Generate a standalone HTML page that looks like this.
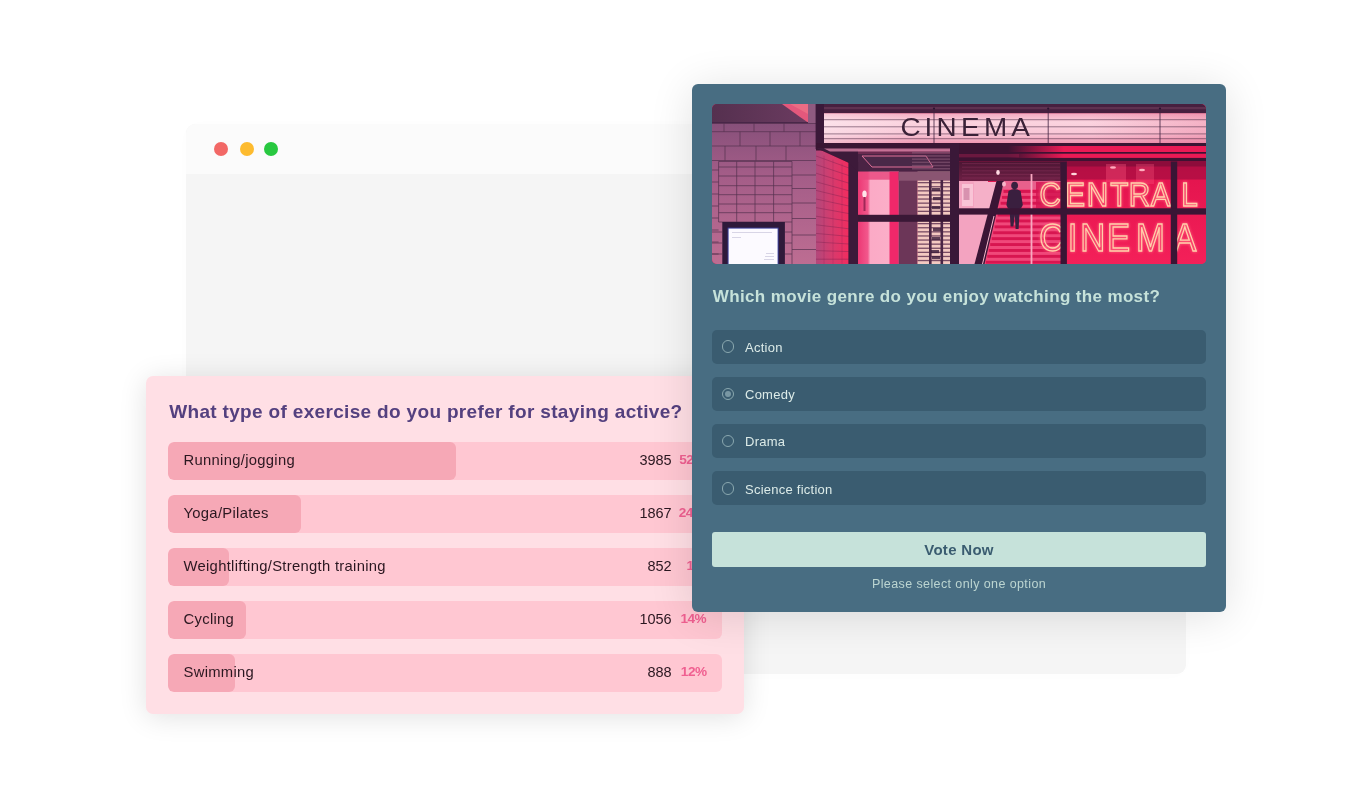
<!DOCTYPE html>
<html lang="en">
<head>
<meta charset="utf-8">
<title>Poll preview</title>
<style>
*{box-sizing:border-box;margin:0;padding:0}
html,body{width:1370px;height:800px;overflow:hidden;background:#fff}
body{position:relative;font-family:"Liberation Sans",sans-serif}
.abs{position:absolute}
.t{position:absolute;white-space:nowrap;line-height:1}
.win,.pink,.blue{will-change:transform}

/* browser window */
.win{position:absolute;left:186px;top:124px;width:1000px;height:550px;border-radius:9px;background:#f5f5f5;box-shadow:0 1px 18px rgba(0,0,0,.012)}
.win .bar{position:absolute;left:0;top:0;width:100%;height:50px;background:#fbfbfb;border-radius:9px 9px 0 0}
.dot{position:absolute;top:18px;width:14px;height:14px;border-radius:50%}

/* pink results card */
.pink{position:absolute;left:146px;top:376px;width:598px;height:338px;border-radius:7px;background:#ffdfe5;box-shadow:0 3px 28px rgba(0,0,0,.12)}
.row{position:absolute;left:22px;width:554px;height:38px;border-radius:6px;background:#ffc7d2;overflow:hidden}
.fill{position:absolute;left:0;top:0;height:38px;border-radius:6px;background:#f6a8b6}
.lbl{left:15.5px;top:11.1px;font-size:14.8px;letter-spacing:.3px;color:#2a1720}
.cnt{top:10.6px;font-size:14.5px;color:#2a1720;text-align:right;width:60px;left:443.7px}
.pct{top:10.8px;font-size:13.6px;letter-spacing:-.45px;font-weight:bold;color:#f06091}

/* blue vote card */
.blue{position:absolute;left:692px;top:84px;width:534px;height:528px;border-radius:6px;background:#486d82;box-shadow:0 4px 44px rgba(0,0,0,.12)}
.opt{position:absolute;left:20px;width:494px;height:34px;border-radius:5px;background:#3a5c70}
.radio{position:absolute;left:9.9px;top:10.9px;width:12.4px;height:12.4px;border-radius:50%;border:1px solid #8aa8af}
.radio.on::after{content:"";position:absolute;left:2.3px;top:2.3px;width:5.8px;height:5.8px;border-radius:50%;background:#7997a3}
.otxt{left:33px;top:11.4px;font-size:13px;letter-spacing:.25px;color:#dcebe8}
.btn{position:absolute;left:20px;top:448.4px;width:494px;height:34.5px;border-radius:3px;background:#c6e2da}
</style>
</head>
<body>

<!-- browser window -->
<div class="win">
  <div class="bar"></div>
  <div class="dot" style="left:28px;background:#f26866"></div>
  <div class="dot" style="left:54px;background:#fdbb2f"></div>
  <div class="dot" style="left:78px;background:#28c840"></div>
</div>

<!-- pink results card -->
<div class="pink">
  <div class="t" id="ptitle" style="left:23.2px;top:26.4px;font-size:19px;letter-spacing:.33px;font-weight:bold;color:#54407f">What type of exercise do you prefer for staying active?</div>

  <div class="row" style="top:66px"><div class="fill" style="width:288px"></div>
    <div class="t lbl">Running/jogging</div><div class="t cnt">3985</div><div class="t pct" style="left:511.2px">52%</div></div>
  <div class="row" style="top:119px"><div class="fill" style="width:133px"></div>
    <div class="t lbl">Yoga/Pilates</div><div class="t cnt">1867</div><div class="t pct" style="left:510.7px">24%</div></div>
  <div class="row" style="top:172px"><div class="fill" style="width:61px"></div>
    <div class="t lbl">Weightlifting/Strength training</div><div class="t cnt">852</div><div class="t pct" style="left:518.6px">11%</div></div>
  <div class="row" style="top:225px"><div class="fill" style="width:78px"></div>
    <div class="t lbl">Cycling</div><div class="t cnt">1056</div><div class="t pct" style="left:512.4px">14%</div></div>
  <div class="row" style="top:278px"><div class="fill" style="width:67px"></div>
    <div class="t lbl">Swimming</div><div class="t cnt">888</div><div class="t pct" style="left:512.8px">12%</div></div>
</div>

<!-- blue vote card -->
<div class="blue">
  <div class="abs" id="photo" style="left:20px;top:20px;width:494px;height:160px;border-radius:5px;overflow:hidden;background:#d8456f">
<svg width="494" height="160" viewBox="0 0 494 160" style="display:block">
<defs>
<linearGradient id="gWall" x1="0" y1="0" x2="0" y2="1"><stop offset="0" stop-color="#7c466b"/><stop offset=".12" stop-color="#87507a"/><stop offset=".45" stop-color="#a45d88"/><stop offset="1" stop-color="#bd6d92"/></linearGradient>
<linearGradient id="gRedWall" x1="0" y1="0" x2="1" y2="0"><stop offset="0" stop-color="#b2487b"/><stop offset=".45" stop-color="#d43c6e"/><stop offset="1" stop-color="#f22c5f"/></linearGradient>
<linearGradient id="gMarq" x1="0" y1="0" x2="0" y2="1"><stop offset="0" stop-color="#f3a9c0"/><stop offset=".3" stop-color="#fbd3df"/><stop offset=".7" stop-color="#f9c6d6"/><stop offset="1" stop-color="#ee98b3"/></linearGradient>
<linearGradient id="gMarqL" x1="0" y1="0" x2="1" y2="0"><stop offset="0" stop-color="#fff" stop-opacity=".35"/><stop offset=".25" stop-color="#fff" stop-opacity="0"/><stop offset=".7" stop-color="#e0507a" stop-opacity="0"/><stop offset="1" stop-color="#e0507a" stop-opacity=".25"/></linearGradient>
<linearGradient id="gDoor" x1="0" y1="0" x2="1" y2="0"><stop offset="0" stop-color="#ec3874"/><stop offset=".24" stop-color="#f2588c"/><stop offset=".3" stop-color="#fbaac6"/><stop offset="1" stop-color="#fbb0c9"/></linearGradient>
<linearGradient id="gRed" x1="0" y1="0" x2="0" y2="1"><stop offset="0" stop-color="#b50f45"/><stop offset=".2" stop-color="#e3144e"/><stop offset="1" stop-color="#f42059"/></linearGradient>
<linearGradient id="gCeil" x1="0" y1="0" x2="0" y2="1"><stop offset="0" stop-color="#4b1633"/><stop offset="1" stop-color="#6d1f44"/></linearGradient>
<linearGradient id="gOver" x1="0" y1="0" x2="1" y2="0"><stop offset="0" stop-color="#55304f"/><stop offset="1" stop-color="#6b3b60"/></linearGradient>
<linearGradient id="gGlow" gradientUnits="userSpaceOnUse" x1="296" y1="0" x2="352" y2="0"><stop offset="0" stop-color="#e8154f" stop-opacity="0"/><stop offset="1" stop-color="#ea1a55" stop-opacity="1"/></linearGradient>
<filter id="neon" x="-10%" y="-40%" width="120%" height="180%" color-interpolation-filters="sRGB"><feGaussianBlur in="SourceAlpha" stdDeviation="1.7" result="b"/><feColorMatrix in="b" type="matrix" values="0 0 0 0 1  0 0 0 0 .36  0 0 0 0 .48  0 0 0 1.5 0" result="g"/><feMerge><feMergeNode in="g"/><feMergeNode in="SourceGraphic"/></feMerge></filter>
</defs>
<rect width="494" height="160" fill="#ea1a52"/>
<rect x="0" y="0" width="104" height="160" fill="url(#gWall)"/>
<path d="M0.0 19.5L104.0 19.5" stroke="#55304f" stroke-width="0.7" opacity="1"/>
<path d="M0.0 27.7L104.0 27.7" stroke="#55304f" stroke-width="0.7" opacity="1"/>
<path d="M0.0 42.0L104.0 42.0" stroke="#55304f" stroke-width="0.7" opacity="1"/>
<path d="M0.0 56.5L104.0 56.5" stroke="#55304f" stroke-width="0.7" opacity="1"/>
<path d="M12.0 19.5L12.0 27.7" stroke="#55304f" stroke-width="0.7" opacity="1"/>
<path d="M42.0 19.5L42.0 27.7" stroke="#55304f" stroke-width="0.7" opacity="1"/>
<path d="M72.0 19.5L72.0 27.7" stroke="#55304f" stroke-width="0.7" opacity="1"/>
<path d="M28.0 27.7L28.0 42.0" stroke="#55304f" stroke-width="0.7" opacity="1"/>
<path d="M58.0 27.7L58.0 42.0" stroke="#55304f" stroke-width="0.7" opacity="1"/>
<path d="M88.0 27.7L88.0 42.0" stroke="#55304f" stroke-width="0.7" opacity="1"/>
<path d="M13.0 42.0L13.0 56.5" stroke="#55304f" stroke-width="0.7" opacity="1"/>
<path d="M44.0 42.0L44.0 56.5" stroke="#55304f" stroke-width="0.7" opacity="1"/>
<path d="M74.0 42.0L74.0 56.5" stroke="#55304f" stroke-width="0.7" opacity="1"/>
<path d="M6.6 57.5L80.0 57.5" stroke="#55304f" stroke-width="0.7" opacity="1"/>
<path d="M6.6 63.0L80.0 63.0" stroke="#55304f" stroke-width="0.7" opacity="1"/>
<path d="M6.6 72.0L80.0 72.0" stroke="#55304f" stroke-width="0.7" opacity="1"/>
<path d="M6.6 81.7L80.0 81.7" stroke="#55304f" stroke-width="0.7" opacity="1"/>
<path d="M6.6 90.7L80.0 90.7" stroke="#55304f" stroke-width="0.7" opacity="1"/>
<path d="M6.6 100.0L80.0 100.0" stroke="#55304f" stroke-width="0.7" opacity="1"/>
<path d="M6.6 108.7L80.0 108.7" stroke="#55304f" stroke-width="0.7" opacity="1"/>
<path d="M6.6 118.0L80.0 118.0" stroke="#55304f" stroke-width="0.7" opacity="1"/>
<path d="M6.6 57.5L6.6 118.0" stroke="#55304f" stroke-width="0.7" opacity="1"/>
<path d="M24.7 57.5L24.7 118.0" stroke="#55304f" stroke-width="0.7" opacity="1"/>
<path d="M43.0 57.5L43.0 118.0" stroke="#55304f" stroke-width="0.7" opacity="1"/>
<path d="M61.6 57.5L61.6 118.0" stroke="#55304f" stroke-width="0.7" opacity="1"/>
<path d="M80.0 57.5L80.0 118.0" stroke="#55304f" stroke-width="0.7" opacity="1"/>
<path d="M80.0 71.0L104.0 71.0" stroke="#55304f" stroke-width="0.7" opacity="1"/>
<path d="M80.0 84.5L104.0 84.5" stroke="#55304f" stroke-width="0.7" opacity="1"/>
<path d="M80.0 99.0L104.0 99.0" stroke="#55304f" stroke-width="0.7" opacity="1"/>
<path d="M80.0 114.5L104.0 114.5" stroke="#55304f" stroke-width="0.7" opacity="1"/>
<path d="M80.0 131.0L104.0 131.0" stroke="#55304f" stroke-width="0.7" opacity="1"/>
<path d="M80.0 145.5L104.0 145.5" stroke="#55304f" stroke-width="0.7" opacity="1"/>
<path d="M80.0 118.0L80.0 160.0" stroke="#55304f" stroke-width="0.7" opacity="1"/>
<path d="M0.0 66.0L6.6 66.0" stroke="#55304f" stroke-width="0.7" opacity="1"/>
<path d="M0.0 78.0L6.6 78.0" stroke="#55304f" stroke-width="0.7" opacity="1"/>
<path d="M0.0 90.0L6.6 90.0" stroke="#55304f" stroke-width="0.7" opacity="1"/>
<path d="M0.0 102.0L6.6 102.0" stroke="#55304f" stroke-width="0.7" opacity="1"/>
<path d="M0.0 114.0L6.6 114.0" stroke="#55304f" stroke-width="0.7" opacity="1"/>
<path d="M0.0 126.0L6.6 126.0" stroke="#55304f" stroke-width="0.7" opacity="1"/>
<path d="M0.0 138.0L6.6 138.0" stroke="#55304f" stroke-width="0.7" opacity="1"/>
<path d="M0.0 150.0L6.6 150.0" stroke="#55304f" stroke-width="0.7" opacity="1"/>
<path d="M73.0 128.0L80.0 128.0" stroke="#55304f" stroke-width="0.7" opacity="1"/>
<path d="M0.0 128.0L10.0 128.0" stroke="#55304f" stroke-width="0.7" opacity="1"/>
<path d="M73.0 139.0L80.0 139.0" stroke="#55304f" stroke-width="0.7" opacity="1"/>
<path d="M0.0 139.0L10.0 139.0" stroke="#55304f" stroke-width="0.7" opacity="1"/>
<path d="M73.0 150.0L80.0 150.0" stroke="#55304f" stroke-width="0.7" opacity="1"/>
<path d="M0.0 150.0L10.0 150.0" stroke="#55304f" stroke-width="0.7" opacity="1"/>
<rect x="0" y="0" width="96" height="18.5" fill="url(#gOver)"/>
<path d="M70 0H96V18.5L88 13Z" fill="#e4587c"/><path d="M78 0H96V10Z" fill="#f07a8a" opacity=".6"/>
<path d="M0.0 18.7L96.0 18.7" stroke="#3f2142" stroke-width="1" opacity="1"/>
<rect x="96" y="0" width="8" height="19" fill="#8f5a80"/>
<rect x="10.3" y="118" width="62.6" height="42" fill="#2f1a3a"/>
<rect x="15.6" y="123.6" width="51" height="37" fill="#3b3f9c"/>
<rect x="16.6" y="124.6" width="49" height="36" fill="#fcfaff"/>
<rect x="20" y="128" width="40" height=".7" fill="#c9c4dc"/>
<rect x="20" y="133" width="9" height=".7" fill="#c9c4dc"/>
<rect x="54" y="149" width="8" height=".7" fill="#c9c4dc"/>
<rect x="53" y="152" width="9" height=".7" fill="#c9c4dc"/>
<rect x="52" y="155" width="10" height=".7" fill="#c9c4dc"/>
<path d="M104 44L137 59V160H104Z" fill="url(#gRedWall)"/>
<path d="M104.0 52.0L137.0 64.0" stroke="#7d2350" stroke-width="0.6" opacity="0.7"/>
<path d="M104.0 60.6L137.0 71.6" stroke="#7d2350" stroke-width="0.6" opacity="0.7"/>
<path d="M104.0 69.2L137.0 79.2" stroke="#7d2350" stroke-width="0.6" opacity="0.7"/>
<path d="M104.0 77.8L137.0 86.8" stroke="#7d2350" stroke-width="0.6" opacity="0.7"/>
<path d="M104.0 86.4L137.0 94.4" stroke="#7d2350" stroke-width="0.6" opacity="0.7"/>
<path d="M104.0 95.0L137.0 102.0" stroke="#7d2350" stroke-width="0.6" opacity="0.7"/>
<path d="M104.0 103.6L137.0 109.6" stroke="#7d2350" stroke-width="0.6" opacity="0.7"/>
<path d="M104.0 112.2L137.0 117.2" stroke="#7d2350" stroke-width="0.6" opacity="0.7"/>
<path d="M104.0 120.8L137.0 124.8" stroke="#7d2350" stroke-width="0.6" opacity="0.7"/>
<path d="M104.0 129.4L137.0 132.4" stroke="#7d2350" stroke-width="0.6" opacity="0.7"/>
<path d="M104.0 138.0L137.0 140.0" stroke="#7d2350" stroke-width="0.6" opacity="0.7"/>
<path d="M104.0 146.6L137.0 147.6" stroke="#7d2350" stroke-width="0.6" opacity="0.7"/>
<path d="M104.0 155.2L137.0 155.2" stroke="#7d2350" stroke-width="0.6" opacity="0.7"/>
<path d="M104.0 163.8L137.0 162.8" stroke="#7d2350" stroke-width="0.6" opacity="0.7"/>
<path d="M112.0 51.6L112.0 160.0" stroke="#7d2350" stroke-width="0.5" opacity="0.45"/>
<path d="M121.0 55.6L121.0 160.0" stroke="#7d2350" stroke-width="0.5" opacity="0.45"/>
<path d="M130.0 59.7L130.0 160.0" stroke="#7d2350" stroke-width="0.5" opacity="0.45"/>
<rect x="104" y="0" width="390" height="9.5" fill="#47203f"/>
<rect x="104" y="3" width="390" height="2.2" fill="#6a3a58" opacity=".7"/>
<rect x="103.6" y="0" width="8.4" height="45" fill="#3b1939"/>
<rect x="112" y="9.3" width="382" height="29.7" fill="url(#gMarq)"/>
<rect x="112" y="9.3" width="382" height="29.7" fill="url(#gMarqL)"/>
<path d="M112.0 15.7L494.0 15.7" stroke="#4a2a44" stroke-width="0.7" opacity="0.8"/>
<path d="M112.0 22.8L494.0 22.8" stroke="#4a2a44" stroke-width="0.7" opacity="0.8"/>
<path d="M112.0 29.9L494.0 29.9" stroke="#4a2a44" stroke-width="0.7" opacity="0.8"/>
<path d="M112.0 34.7L494.0 34.7" stroke="#4a2a44" stroke-width="0.7" opacity="0.8"/>
<path d="M222.0 5.0L222.0 39.0" stroke="#3f2140" stroke-width="0.8" opacity="1"/>
<path d="M336.2 5.0L336.2 39.0" stroke="#3f2140" stroke-width="0.8" opacity="1"/>
<path d="M448.0 5.0L448.0 39.0" stroke="#3f2140" stroke-width="0.8" opacity="1"/>
<circle cx="222" cy="4.5" r="1.1" fill="#2c1530"/>
<circle cx="336.2" cy="4.5" r="1.1" fill="#2c1530"/>
<circle cx="448" cy="4.5" r="1.1" fill="#2c1530"/>
<text transform="scale(1.08,1)" x="174.5 196.8 207.8 230.6 251.8 277.2" y="32" font-family="'Liberation Sans',sans-serif" font-size="25.8" fill="#3b2238">CINEMA</text>
<rect x="104" y="39" width="390" height="7.5" fill="#3a1533"/>
<rect x="137" y="46" width="110" height="22" fill="#4a2344"/>
<path d="M137 46H247V50H137Z" fill="#6a2a4f"/>
<path d="M150 52H214L221 63H160Z" fill="#4a2848" stroke="#e07098" stroke-width="1"/>
<rect x="200" y="48.0" width="38" height="1.5" fill="#8a5a78" opacity=".6"/>
<rect x="200" y="51.2" width="38" height="1.5" fill="#8a5a78" opacity=".6"/>
<rect x="200" y="54.4" width="38" height="1.5" fill="#8a5a78" opacity=".6"/>
<rect x="200" y="57.6" width="38" height="1.5" fill="#8a5a78" opacity=".6"/>
<rect x="200" y="60.8" width="38" height="1.5" fill="#8a5a78" opacity=".6"/>
<rect x="200" y="64.0" width="38" height="1.5" fill="#8a5a78" opacity=".6"/>
<rect x="136.4" y="58" width="9.8" height="102" fill="#3d1a3a"/>
<path d="M104 44H146V68L137 59Z" fill="#3d1a3a"/>
<path d="M112 44.5H238V47.5H118Z" fill="#e58aad" opacity=".75"/>
<rect x="146" y="67.7" width="41" height="92.3" fill="url(#gDoor)"/>
<rect x="146" y="67.7" width="41" height="8" fill="#e8457c" opacity=".8"/>
<rect x="177.5" y="67.7" width="9.3" height="92.3" fill="#f0286a"/>
<ellipse cx="152.5" cy="90" rx="2.2" ry="3.5" fill="#ffe4ea"/><rect x="151.5" y="93" width="2" height="14" fill="#a02858"/>
<rect x="186.7" y="67.7" width="19" height="92.3" fill="#6c3658"/>
<rect x="205.5" y="67.7" width="32.5" height="92.3" fill="#f3c9c1"/>
<rect x="186.7" y="67.7" width="51.3" height="9" fill="#8a5572"/>
<rect x="205.5" y="78.0" width="32.5" height="1.3" fill="#5a2c4c" opacity=".8"/>
<rect x="205.5" y="82.1" width="32.5" height="1.3" fill="#5a2c4c" opacity=".8"/>
<rect x="205.5" y="86.2" width="32.5" height="1.3" fill="#5a2c4c" opacity=".8"/>
<rect x="205.5" y="90.3" width="32.5" height="1.3" fill="#5a2c4c" opacity=".8"/>
<rect x="205.5" y="94.4" width="32.5" height="1.3" fill="#5a2c4c" opacity=".8"/>
<rect x="205.5" y="98.5" width="32.5" height="1.3" fill="#5a2c4c" opacity=".8"/>
<rect x="205.5" y="102.6" width="32.5" height="1.3" fill="#5a2c4c" opacity=".8"/>
<rect x="205.5" y="106.7" width="32.5" height="1.3" fill="#5a2c4c" opacity=".8"/>
<rect x="205.5" y="110.8" width="32.5" height="1.3" fill="#5a2c4c" opacity=".8"/>
<rect x="205.5" y="114.9" width="32.5" height="1.3" fill="#5a2c4c" opacity=".8"/>
<rect x="205.5" y="119.0" width="32.5" height="1.3" fill="#5a2c4c" opacity=".8"/>
<rect x="205.5" y="123.1" width="32.5" height="1.3" fill="#5a2c4c" opacity=".8"/>
<rect x="205.5" y="127.2" width="32.5" height="1.3" fill="#5a2c4c" opacity=".8"/>
<rect x="205.5" y="131.3" width="32.5" height="1.3" fill="#5a2c4c" opacity=".8"/>
<rect x="205.5" y="135.4" width="32.5" height="1.3" fill="#5a2c4c" opacity=".8"/>
<rect x="205.5" y="139.5" width="32.5" height="1.3" fill="#5a2c4c" opacity=".8"/>
<rect x="205.5" y="143.6" width="32.5" height="1.3" fill="#5a2c4c" opacity=".8"/>
<rect x="205.5" y="147.7" width="32.5" height="1.3" fill="#5a2c4c" opacity=".8"/>
<rect x="205.5" y="151.8" width="32.5" height="1.3" fill="#5a2c4c" opacity=".8"/>
<rect x="205.5" y="155.9" width="32.5" height="1.3" fill="#5a2c4c" opacity=".8"/>
<rect x="205.5" y="160.0" width="32.5" height="1.3" fill="#5a2c4c" opacity=".8"/>
<rect x="217" y="76" width="2.6" height="84" fill="#4a2545"/>
<rect x="228.5" y="76" width="2.6" height="84" fill="#4a2545"/>
<rect x="220" y="84" width="8" height="3.2" fill="#3a1c3a" opacity=".8"/>
<rect x="221" y="93" width="8" height="3.2" fill="#3a1c3a" opacity=".8"/>
<rect x="220" y="102" width="8" height="3.2" fill="#3a1c3a" opacity=".8"/>
<rect x="221" y="124" width="8" height="3.2" fill="#3a1c3a" opacity=".8"/>
<rect x="220" y="133" width="8" height="3.2" fill="#3a1c3a" opacity=".8"/>
<rect x="219" y="146" width="8" height="3.2" fill="#3a1c3a" opacity=".8"/>
<rect x="220" y="152" width="8" height="3.2" fill="#3a1c3a" opacity=".8"/>
<rect x="146" y="110.8" width="92" height="7" fill="#3a1836"/>
<rect x="238" y="39" width="9.2" height="121" fill="#3a1838"/>
<rect x="247" y="46" width="247" height="114" fill="url(#gRed)"/>
<rect x="247" y="46" width="247" height="11.5" fill="#3e1232"/>
<rect x="296" y="42" width="198" height="6" fill="url(#gGlow)"/>
<rect x="296" y="49.7" width="198" height="4.2" fill="url(#gGlow)"/>
<rect x="247" y="50" width="60" height="3.4" fill="#8a1c48" opacity=".6"/>
<rect x="247" y="57.5" width="102" height="19.5" fill="url(#gCeil)"/>
<rect x="250" y="59.0" width="98" height="1.2" fill="#8a3058" opacity=".45"/>
<rect x="250" y="62.6" width="98" height="1.2" fill="#8a3058" opacity=".45"/>
<rect x="250" y="66.2" width="98" height="1.2" fill="#8a3058" opacity=".45"/>
<rect x="250" y="69.8" width="98" height="1.2" fill="#8a3058" opacity=".45"/>
<rect x="250" y="73.4" width="98" height="1.2" fill="#8a3058" opacity=".45"/>
<rect x="355" y="57.5" width="139" height="18" fill="#a80e42" opacity=".75"/>
<rect x="355" y="57.5" width="139" height="5" fill="#7d0c38" opacity=".7"/>
<ellipse cx="401" cy="63.5" rx="3" ry="1.3" fill="#ffd6dc"/>
<ellipse cx="430" cy="66" rx="3" ry="1.3" fill="#ffd6dc"/>
<ellipse cx="362" cy="70" rx="3" ry="1.3" fill="#ffd6dc"/>
<rect x="394" y="60" width="20" height="18" fill="#ff5a80" opacity=".35"/><rect x="424" y="60" width="18" height="20" fill="#ff5a80" opacity=".3"/>
<rect x="247" y="77" width="29" height="83" fill="#f3a3c0"/>
<rect x="250" y="80" width="11" height="22" fill="#f9c4d6"/><rect x="251.5" y="84" width="6" height="12" fill="#b86088" opacity=".5"/>
<rect x="262" y="78" width="22" height="27" fill="#f5b0c8"/>
<path d="M270 160L289 84H349V160Z" fill="#f0487a"/>
<rect x="291.5" y="86.0" width="57.5" height="2.9" fill="#d81550"/>
<rect x="290.0" y="91.9" width="59.0" height="2.9" fill="#d81550"/>
<rect x="288.6" y="97.8" width="60.4" height="2.9" fill="#d81550"/>
<rect x="287.1" y="103.7" width="61.9" height="2.9" fill="#d81550"/>
<rect x="285.6" y="109.6" width="63.4" height="2.9" fill="#d81550"/>
<rect x="284.1" y="115.5" width="64.9" height="2.9" fill="#d81550"/>
<rect x="282.6" y="121.4" width="66.4" height="2.9" fill="#d81550"/>
<rect x="281.2" y="127.3" width="67.8" height="2.9" fill="#d81550"/>
<rect x="279.7" y="133.2" width="69.3" height="2.9" fill="#d81550"/>
<rect x="278.2" y="139.1" width="70.8" height="2.9" fill="#d81550"/>
<rect x="276.8" y="145.0" width="72.2" height="2.9" fill="#d81550"/>
<rect x="275.3" y="150.9" width="73.7" height="2.9" fill="#d81550"/>
<rect x="273.8" y="156.8" width="75.2" height="2.9" fill="#d81550"/>
<rect x="284" y="77" width="65" height="8" fill="#e8608c"/>
<path d="M284.5 77H292L272.5 160H262.5Z" fill="#3a1535"/>
<path d="M282 112L270.5 160" stroke="#f6b8cc" stroke-width="1" fill="none"/>
<rect x="318.6" y="70" width="1.8" height="90" fill="#f7a9c0"/>
<rect x="324" y="78" width="25" height="26" fill="#d21450" opacity=".8"/>
<ellipse cx="286" cy="68.5" rx="1.8" ry="2.4" fill="#ffd9e2"/><ellipse cx="292" cy="80" rx="2" ry="2.6" fill="#f7b5c8"/>
<g fill="#3a1f3f"><ellipse cx="302.6" cy="81.5" rx="3.4" ry="3.8"/><path d="M296.5 87Q302.6 83 308.6 87L310.8 101L309 104.5H296L294.4 101Z"/><path d="M297.5 104H307.8L306.6 125H303.6L302.8 111L301.4 122.5H298.6Z"/></g>
<text transform="scale(0.9,1)" x="363.9 392.6 416.5 442.5 463.2 487.4 521.5" y="102.4" font-size="33" font-family="'Liberation Sans',sans-serif" fill="none" stroke="#ffd0aa" stroke-width="1.35" filter="url(#neon)">CENTRAL</text>
<text transform="scale(0.9,1)" x="363.6 395.2 409.1 438.8 471.1 512.6" y="146.6" font-size="38.5" font-family="'Liberation Sans',sans-serif" fill="none" stroke="#ffd0aa" stroke-width="1.35" filter="url(#neon)">CINEMA</text>
<rect x="348.5" y="57.5" width="6.4" height="102.5" fill="#3a1535"/>
<rect x="458.8" y="57.5" width="6.4" height="102.5" fill="#3a1535"/>
<rect x="247" y="104.3" width="247" height="6.3" fill="#3a1535"/>
</svg>
  </div>

  <div class="t" id="btitle" style="left:20.8px;top:204.3px;font-size:17px;letter-spacing:.36px;font-weight:bold;color:#c6e2da">Which movie genre do you enjoy watching the most?</div>

  <div class="opt" style="top:245.5px"><div class="radio"></div><div class="t otxt">Action</div></div>
  <div class="opt" style="top:292.8px"><div class="radio on"></div><div class="t otxt">Comedy</div></div>
  <div class="opt" style="top:340.1px"><div class="radio"></div><div class="t otxt">Drama</div></div>
  <div class="opt" style="top:387.4px"><div class="radio"></div><div class="t otxt">Science fiction</div></div>

  <div class="btn"><div class="t" id="vote" style="left:0;width:494px;text-align:center;top:9.6px;font-size:15px;letter-spacing:.3px;font-weight:bold;color:#3a5c70">Vote Now</div></div>
  <div class="t" id="cap" style="left:20px;width:494px;text-align:center;top:493.5px;font-size:12.5px;letter-spacing:.4px;color:#bcd5d1">Please select only one option</div>
</div>

</body>
</html>
